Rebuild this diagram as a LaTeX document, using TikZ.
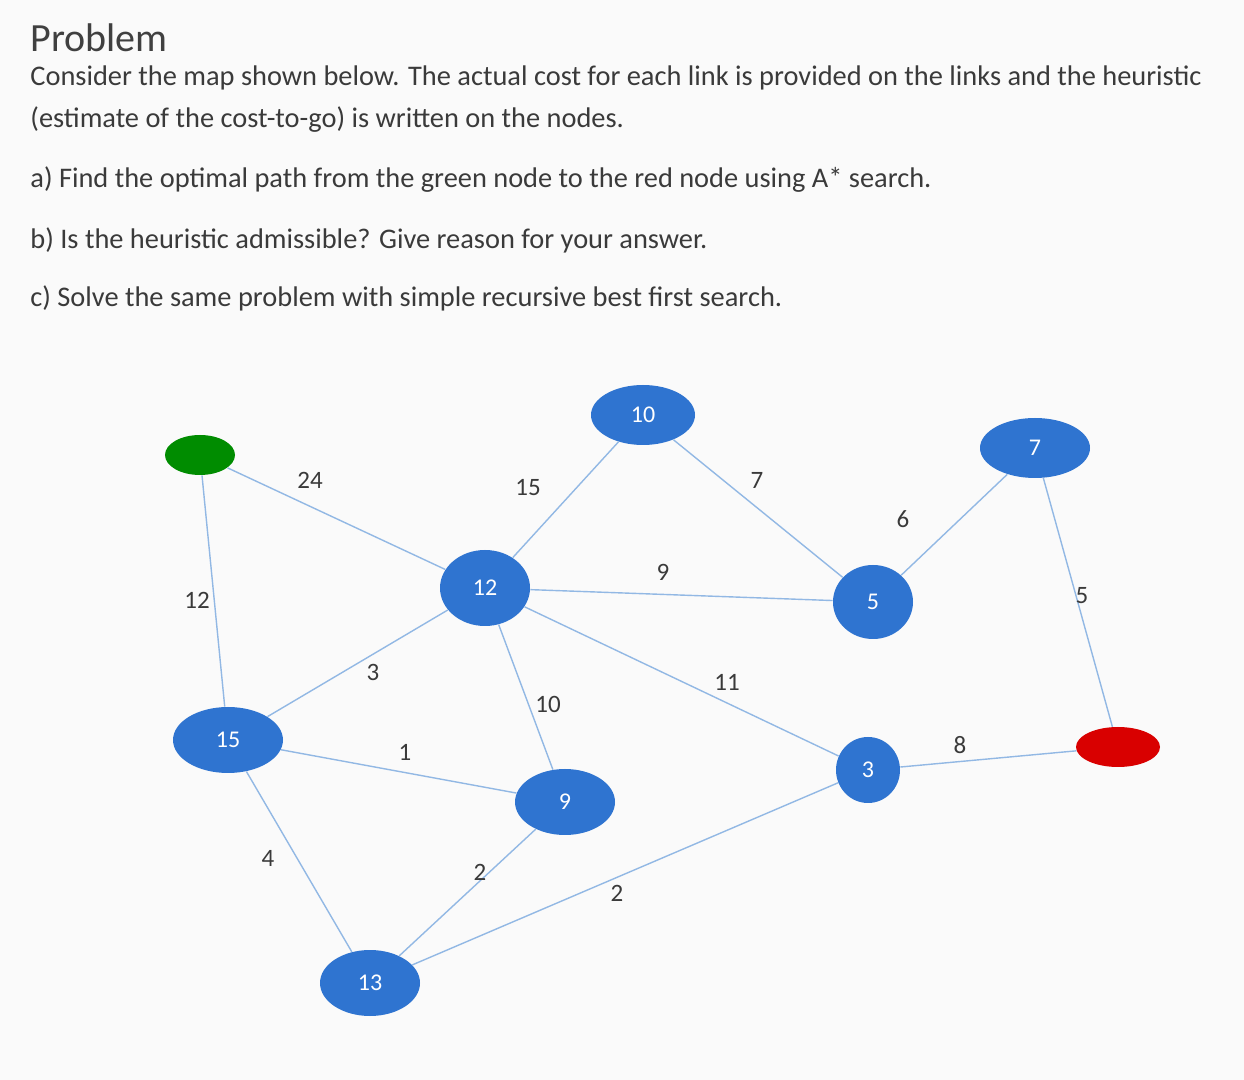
\documentclass[tikz,border=0pt]{standalone}
\usepackage{fontspec}
\setmainfont{Carlito}
\usetikzlibrary{shapes.geometric}
\definecolor{nodeblue}{HTML}{2F74D0}
\definecolor{edgeblue}{HTML}{92B8E4}
\definecolor{txt}{HTML}{3A3A3A}
\begin{document}
\begin{tikzpicture}[x=0.5pt,y=-0.5pt,
  nd/.style={ellipse,fill=nodeblue,text=white,inner sep=0pt,font=\fontsize{12}{14}\selectfont},
  ed/.style={draw=edgeblue,line width=0.7pt},
  lb/.style={font=\fontsize{12.5}{14}\selectfont,text=txt},
  tx/.style={anchor=west,font=\fontsize{14.2}{16}\selectfont,text=txt,inner sep=0pt}]
\useasboundingbox[fill=white!96!gray] (0,0) rectangle (1244,1080);
\node[tx,font=\fontsize{20}{22}\selectfont,text=black!75] (title) at (30,38) {Problem};
\node[tx] (l1) at (30,78) {Consider the map shown below. The actual cost for each link is provided on the links and the heuristic};
\node[tx] (l2) at (30,120) {(estimate of the cost-to-go) is written on the nodes.};
\node[tx] (l3) at (30,180) {a) Find the optimal path from the green node to the red node using A* search.};
\node[tx] (l4) at (30,240) {b) Is the heuristic admissible? Give reason for your answer.};
\node[tx] (l5) at (30,298) {c) Solve the same problem with simple recursive best first search.};

\node[nd,fill=green!55!black,minimum width=35,minimum height=20] (g) at (200,455) {};
\node[nd,minimum width=45,minimum height=38] (a) at (485,588) {12};
\node[nd,minimum width=52,minimum height=30] (b) at (643,415) {10};
\node[nd,minimum width=55,minimum height=30] (c) at (1035,448) {7};
\node[nd,minimum width=40,minimum height=37] (d) at (873,602) {5};
\node[nd,minimum width=55,minimum height=33] (e) at (228,740) {15};
\node[nd,minimum width=50,minimum height=33] (f) at (565,802) {9};
\node[nd,minimum width=32,minimum height=33] (h) at (868,770) {3};
\node[nd,fill=red!85!black,minimum width=42,minimum height=20] (r) at (1118,747) {};
\node[nd,minimum width=50,minimum height=33] (k) at (370,983) {13};

\draw[ed] (g) -- (a); \node[lb] (t1) at (310,480) {24};
\draw[ed] (g) -- (e); \node[lb] (t2) at (197,600) {12};
\draw[ed] (a) -- (b); \node[lb] (t3) at (528,488) {15};
\draw[ed] (a) -- (d); \node[lb] (t4) at (663,572) {9};
\draw[ed] (a) -- (e); \node[lb] (t5) at (373,672) {3};
\draw[ed] (a) -- (f); \node[lb] (t6) at (548,704) {10};
\draw[ed] (a) -- (h); \node[lb] (t7) at (727,682) {11};
\draw[ed] (b) -- (d); \node[lb] (t8) at (757,480) {7};
\draw[ed] (d) -- (c); \node[lb] (t9) at (903,519) {6};
\draw[ed] (c) -- (r); \node[lb] (t10) at (1082,596) {5};
\draw[ed] (h) -- (r); \node[lb] (t11) at (960,745) {8};
\draw[ed] (e) -- (f); \node[lb] (t12) at (405,752) {1};
\draw[ed] (e) -- (k); \node[lb] (t13) at (268,858) {4};
\draw[ed] (f) -- (k); \node[lb] (t14) at (480,872) {2};
\draw[ed] (k) -- (h); \node[lb] (t15) at (617,893) {2};
\end{tikzpicture}
\end{document}
